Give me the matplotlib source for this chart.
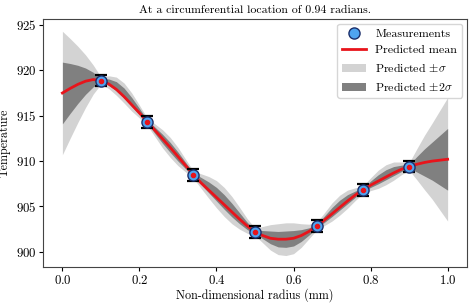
import numpy as np
import matplotlib
matplotlib.use("Agg")
import matplotlib.pyplot as plt

plt.rcParams['font.family'] = 'serif'
plt.rcParams['font.serif'] = ['cmr10']
plt.rcParams['mathtext.fontset'] = 'cm'
plt.rcParams['axes.formatter.use_mathtext'] = True

# measurements
x_meas = [0.10, 0.22, 0.34, 0.50, 0.66, 0.78, 0.90]
t_meas = [918.87, 914.35, 908.5, 902.2, 902.83, 906.83, 909.4]
t_err = 0.65

# prediction on a 0.02 grid
x_pred = [0.00, 0.02, 0.04, 0.06, 0.08, 0.10, 0.12, 0.14, 0.16, 0.18,
          0.20, 0.22, 0.24, 0.26, 0.28, 0.30, 0.32, 0.34, 0.36, 0.38,
          0.40, 0.42, 0.44, 0.46, 0.48, 0.50, 0.52, 0.54, 0.56, 0.58,
          0.60, 0.62, 0.64, 0.66, 0.68, 0.70, 0.72, 0.74, 0.76, 0.78,
          0.80, 0.82, 0.84, 0.86, 0.88, 0.90, 0.92, 0.94, 0.96, 0.98, 1.00]
mean = [917.5, 918.0, 918.45, 918.8, 918.98, 918.87, 918.5, 917.9, 917.1, 916.2,
        915.3, 914.35, 913.4, 912.45, 911.5, 910.5, 909.5, 908.5, 907.6, 906.8,
        906.0, 905.2, 904.4, 903.6, 902.85, 902.2, 901.8, 901.5, 901.4, 901.4,
        901.5, 901.8, 902.25, 902.83, 903.5, 904.2, 904.9, 905.6, 906.25, 906.83,
        907.35, 907.8, 908.25, 908.7, 909.1, 909.4, 909.65, 909.85, 910.0, 910.1, 910.2]
sigma = [3.4, 2.75, 2.1, 1.45, 0.8, 0.2, 0.35, 0.5, 0.55, 0.5,
         0.35, 0.2, 0.35, 0.5, 0.55, 0.5, 0.35, 0.2, 0.4, 0.6,
         0.75, 0.8, 0.75, 0.6, 0.4, 0.2, 0.45, 0.7, 0.85, 0.9,
         0.85, 0.65, 0.4, 0.2, 0.35, 0.5, 0.55, 0.5, 0.35, 0.2,
         0.35, 0.5, 0.55, 0.5, 0.35, 0.2, 0.85, 1.5, 2.1, 2.75, 3.4]
# band centre sits a little above the mean in some gaps
shift = [0, 0, 0, 0, 0, 0, 0.2, 0.35, 0.4, 0.3,
         0.15, 0, 0, 0, 0, 0, 0, 0, 0.2, 0.3,
         0.35, 0.3, 0.2, 0.1, 0, 0, 0.1, 0.1, 0, 0,
         0, 0, 0, 0, 0.1, 0.2, 0.25, 0.2, 0.1, 0,
         0.1, 0.2, 0.25, 0.2, 0.1, 0, 0, 0, 0, 0, 0]

x_pred = np.array(x_pred)
mid = np.array(mean) + np.array(shift)
sigma = np.array(sigma)

fig = plt.figure(figsize=(4.74, 3.05), dpi=100)
ax = fig.add_axes([0.091, 0.125, 0.894, 0.813])

ax.fill_between(x_pred, mid - 2 * sigma, mid + 2 * sigma, color='lightgray', lw=0,
                label=r'Predicted $\pm\sigma$')
ax.fill_between(x_pred, mid - sigma, mid + sigma, color='gray', lw=0,
                label=r'Predicted $\pm2\sigma$')
ax.plot(x_pred, mean, color='#e8141b', lw=2, label='Predicted mean')
ax.errorbar(x_meas, t_meas, yerr=t_err, fmt='none', ecolor='black',
            capsize=4.5, capthick=1.6, elinewidth=1.2, zorder=4)
ax.plot(x_meas, t_meas, 'o', ms=8, mfc='#4ea4f0', mec='#1c2f6b', mew=1.0,
        zorder=5, label='Measurements')
ax.plot(x_meas, t_meas, 'o', ms=3, color='#e8141b', zorder=6)

h, l = ax.get_legend_handles_labels()
order = [3, 2, 0, 1]
ax.legend([h[i] for i in order], [l[i] for i in order], loc='upper right',
          fontsize=8.6, borderaxespad=0.4)

ax.set_title('At a circumferential location of 0.94 radians.', fontsize=8.5, pad=4)
ax.set_xlabel('Non-dimensional radius (mm)', fontsize=8.7, labelpad=1)
ax.set_ylabel('Temperature', fontsize=8.7)
ax.yaxis.set_label_coords(-0.076, 0.5)
ax.set_ylim(898.35, 925.66)
ax.set_xticks([0.0, 0.2, 0.4, 0.6, 0.8, 1.0])
ax.set_yticks([900, 905, 910, 915, 920, 925])
ax.tick_params(labelsize=9.2, length=3, pad=2)
for s in ax.spines.values():
    s.set_color('#444444')

fig.savefig('out.png', dpi=100)
